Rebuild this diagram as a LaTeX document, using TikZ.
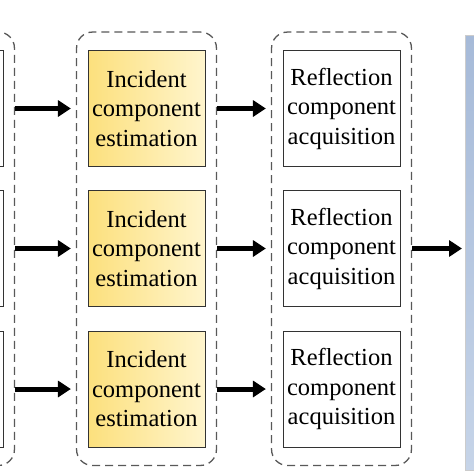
\documentclass[tikz,border=0pt]{standalone}
\usepackage{fontspec}
\setmainfont{Liberation Serif}
\usetikzlibrary{arrows.meta,fit}

\definecolor{incleft}{RGB}{252,224,125}
\definecolor{incright}{RGB}{255,245,205}
\definecolor{paneltop}{RGB}{166,186,216}
\definecolor{panelbot}{RGB}{198,212,232}

\tikzset{
	stage/.style={draw=black!80, line width=0.9pt, minimum width=117pt, minimum height=116pt,
		inner sep=0pt, align=center, font=\fontsize{24.5}{29.5}\selectfont},
	incbox/.style={stage, left color=incleft, right color=incright},
	refbox/.style={stage, fill=white},
	group/.style={draw=black!65, line width=1.3pt, dash pattern=on 8pt off 5pt,
		rounded corners=16pt, inner xsep=11pt, inner ysep=18pt},
	flow/.style={line width=5pt, -{Triangle[length=13pt,width=16pt]}},
}

\begin{document}
\begin{tikzpicture}[x=1pt,y=-1pt]
			%%%%% START %%%%%
			
			\path[use as bounding box, clip] (0,0) rectangle (474,474);
			\fill[white] (0,0) rectangle (474,474);
			
			% cut-off inputs on the left
			\node[refbox] (src1) at (-55.5, 108.5) {};
			\node[refbox] (src2) at (-55.5, 248.5) {};
			\node[refbox] (src3) at (-55.5, 389) {};
			
			% incident component
			\node[incbox] (inc1) at (146.5, 108.5) {Incident\\component\\estimation};
			\node[incbox] (inc2) at (146.5, 248.5) {Incident\\component\\estimation};
			\node[incbox] (inc3) at (146.5, 389) {Incident\\component\\estimation};
			
			% reflection component
			\node[refbox] (ref1) at (341.5, 108.5) {Reflection\\component\\acquisition};
			\node[refbox] (ref2) at (341.5, 248.5) {Reflection\\component\\acquisition};
			\node[refbox] (ref3) at (341.5, 389) {Reflection\\component\\acquisition};
			
			\node[group, fit=(src1)(src3)] (grpsrc) {};
			\node[group, fit=(inc1)(inc3)] (grpinc) {};
			\node[group, fit=(ref1)(ref3)] (grpref) {};
			
			% output panel
			\node[draw=black!20, line width=0.6pt, top color=paneltop, bottom color=panelbot,
				minimum width=30pt, minimum height=435pt, inner sep=0pt, anchor=north west] (out) at (465, 35) {};
			
			\draw[flow, shorten >=5pt] (grpsrc.east |- inc1) -- (grpinc.west |- inc1);
			\draw[flow, shorten >=5pt] (grpsrc.east |- inc2) -- (grpinc.west |- inc2);
			\draw[flow, shorten >=5pt] (grpsrc.east |- inc3) -- (grpinc.west |- inc3);
			
			\draw[flow, shorten >=5pt] (grpinc.east |- ref1) -- (grpref.west |- ref1);
			\draw[flow, shorten >=5pt] (grpinc.east |- ref2) -- (grpref.west |- ref2);
			\draw[flow, shorten >=5pt] (grpinc.east |- ref3) -- (grpref.west |- ref3);
			
			\draw[flow, shorten >=3pt] (grpref.east |- ref2) -- (out.west |- ref2);
			
			%%%%% END %%%%%
\end{tikzpicture}
\end{document}
